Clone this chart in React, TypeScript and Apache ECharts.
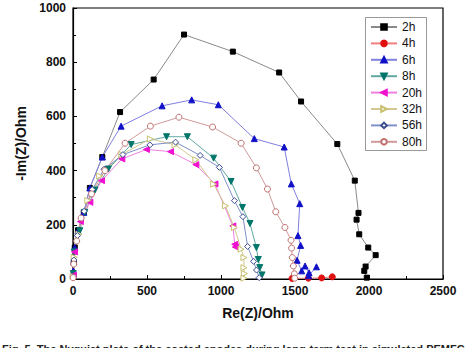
import React, { useEffect, useRef } from "react";
import * as echarts from "echarts";

const seriesNames = ["2h", "4h", "6h", "8h", "20h", "32h", "56h", "80h"];

const d2h = [[2,10],[5,60],[12,116],[34,180],[73,246],[114,336],[198,450],[318,616],[545,736],[750,902],[1080,839],[1393,762],[1541,655],[1786,498],[1904,363],[1929,244],[1916,219],[1934,165],[1995,116],[2045,88],[1977,46],[1968,30],[1985,5]];
const d4h = [[1480,2],[1590,3],[1680,4],[1752,8]];
const d6h = [[3,30],[5,65],[12,116],[34,178],[73,246],[114,336],[198,450],[325,564],[602,639],[802,661],[982,643],[1225,518],[1427,487],[1475,351],[1532,278],[1520,160],[1538,124],[1514,69],[1545,30],[1568,48],[1595,23],[1592,12],[1645,45]];
const d8h = [[2,20],[10,100],[46,178],[80,246],[148,328],[239,406],[393,496],[632,525],[773,525],[950,446],[1068,360],[1145,264],[1196,205],[1239,116],[1252,72],[1262,42],[1277,15]];
const d20h = [[2,15],[10,100],[50,212],[114,283],[193,363],[330,443],[496,478],[659,470],[830,422],[959,351],[1080,196],[1093,128],[1097,118]];
const d32h = [[1,10],[8,80],[40,165],[100,290],[180,380],[330,460],[523,517],[690,495],[830,440],[950,350],[1030,270],[1090,190],[1136,110],[1155,79],[1155,42],[1158,20],[1155,3]];
const d56h = [[1,8],[6,70],[30,160],[75,250],[130,330],[210,405],[337,459],[520,495],[693,505],[859,456],[989,412],[1091,289],[1148,230],[1180,120],[1220,65],[1240,33],[1258,5]];
const d80h = [[1,5],[5,55],[25,140],[55,225],[125,314],[216,400],[352,501],[523,564],[716,597],[943,561],[1136,501],[1239,410],[1314,332],[1370,248],[1432,190],[1473,143],[1477,114],[1482,79],[1489,48],[1496,19],[1498,3]];

const xTicks = { min: 0, max: 2500, interval: 500 };
const yTicks = { min: 0, max: 1000, interval: 200 };

const allData = [d2h, d4h, d6h, d8h, d20h, d32h, d56h, d80h];

const styles = [
  { symbol: "rect", color: "#000000", fill: "#000000", line: "#8a8a8a" },
  { symbol: "circle", color: "#e01010", fill: "#e01010", line: "#f08080" },
  { symbol: "triangle", color: "#1010c8", fill: "#1010c8", line: "#8080e0" },
  { symbol: "path://M0,0 L10,0 L5,10 Z", color: "#00766a", fill: "#00766a", line: "#60a8a0" },
  { symbol: "path://M10,0 L10,10 L0,5 Z", color: "#f010d0", fill: "#f010d0", line: "#f080e0" },
  { symbol: "path://M0,0 L10,5 L0,10 Z", color: "#c8c070", fill: "#ffffff", line: "#d0c890" },
  { symbol: "diamond", color: "#3a4a90", fill: "#ffffff", line: "#8090c8" },
  { symbol: "circle", color: "#c07070", fill: "#ffffff", line: "#d09a9a" },
];

export default function App() {
  const ref = useRef<HTMLDivElement>(null);
  useEffect(() => {
    if (!ref.current) return;
    const chart = echarts.init(ref.current, null, { renderer: "svg" });
    const font = "'Liberation Sans', Arial, sans-serif";
    chart.setOption({
      animation: false,
      backgroundColor: "#ffffff",
      grid: { left: 73, right: 31, top: 8, bottom: 69, show: true, borderColor: "#000", borderWidth: 1.2, backgroundColor: "transparent" },
      legend: {
        orient: "vertical",
        left: 370,
        top: 21,
        z: 5,
        data: seriesNames,
        itemWidth: 26,
        itemHeight: 7,
        itemGap: 4.4,
        padding: 0,
        borderWidth: 0,
        textStyle: { fontFamily: font, fontSize: 12, color: "#111" },
      },
      xAxis: {
        type: "value",
        min: xTicks.min,
        max: xTicks.max,
        interval: xTicks.interval,
        name: "Re(Z)/Ohm",
        nameLocation: "middle",
        nameGap: 27,
        nameTextStyle: { fontFamily: font, fontSize: 14, fontWeight: "bold", color: "#111" },
        axisLine: { lineStyle: { color: "#000", width: 1.2 } },
        axisTick: { inside: true, length: 4, lineStyle: { color: "#000" } },
        minorTick: { show: true, splitNumber: 2, length: 3, lineStyle: { color: "#000" } },
        axisLabel: { fontFamily: font, fontSize: 12, fontWeight: "bold", color: "#111", margin: 6, formatter: (v: number) => String(v) },
        splitLine: { show: false },
      },
      yAxis: {
        type: "value",
        min: yTicks.min,
        max: yTicks.max,
        interval: yTicks.interval,
        name: "-Im(Z)/Ohm",
        nameLocation: "middle",
        nameGap: 40,
        nameTextStyle: { fontFamily: font, fontSize: 14, fontWeight: "bold", color: "#111" },
        axisLine: { lineStyle: { color: "#000", width: 1.2 } },
        axisTick: { inside: true, length: 4, lineStyle: { color: "#000" } },
        minorTick: { show: true, splitNumber: 2, length: 3, lineStyle: { color: "#000" } },
        axisLabel: { fontFamily: font, fontSize: 12, fontWeight: "bold", color: "#111", margin: 7, formatter: (v: number) => String(v) },
        splitLine: { show: false },
      },
      graphic: [
        {
          type: "rect",
          z: 4,
          shape: { x: 365.5, y: 17.5, width: 61, height: 133 },
          style: { fill: "#ffffff", stroke: "#999999", lineWidth: 1 },
        },
        {
          type: "text",
          left: 2,
          top: 343,
          style: {
            text: "Fig. 5  The Nyquist plots of the coated anodes during long-term test in simulated PEMFC",
            fontFamily: font,
            fontSize: 11,
            fontWeight: "bold",
            fill: "#222",
          },
        },
      ],
      series: seriesNames.map((name, i) => ({
        name,
        type: "line",
        data: allData[i],
        symbol: styles[i].symbol,
        symbolSize: i === 0 ? 5 : 6,
        showAllSymbol: true,
        clip: true,
        lineStyle: { color: styles[i].line, width: 1 },
        itemStyle: { color: styles[i].fill, borderColor: styles[i].color, borderWidth: 1 },
        emphasis: { disabled: true },
      })),
    });
    return () => chart.dispose();
  }, []);
  return <div ref={ref} style={{ position: "absolute", left: 0, top: 0, width: 474, height: 348 }} />;
}
